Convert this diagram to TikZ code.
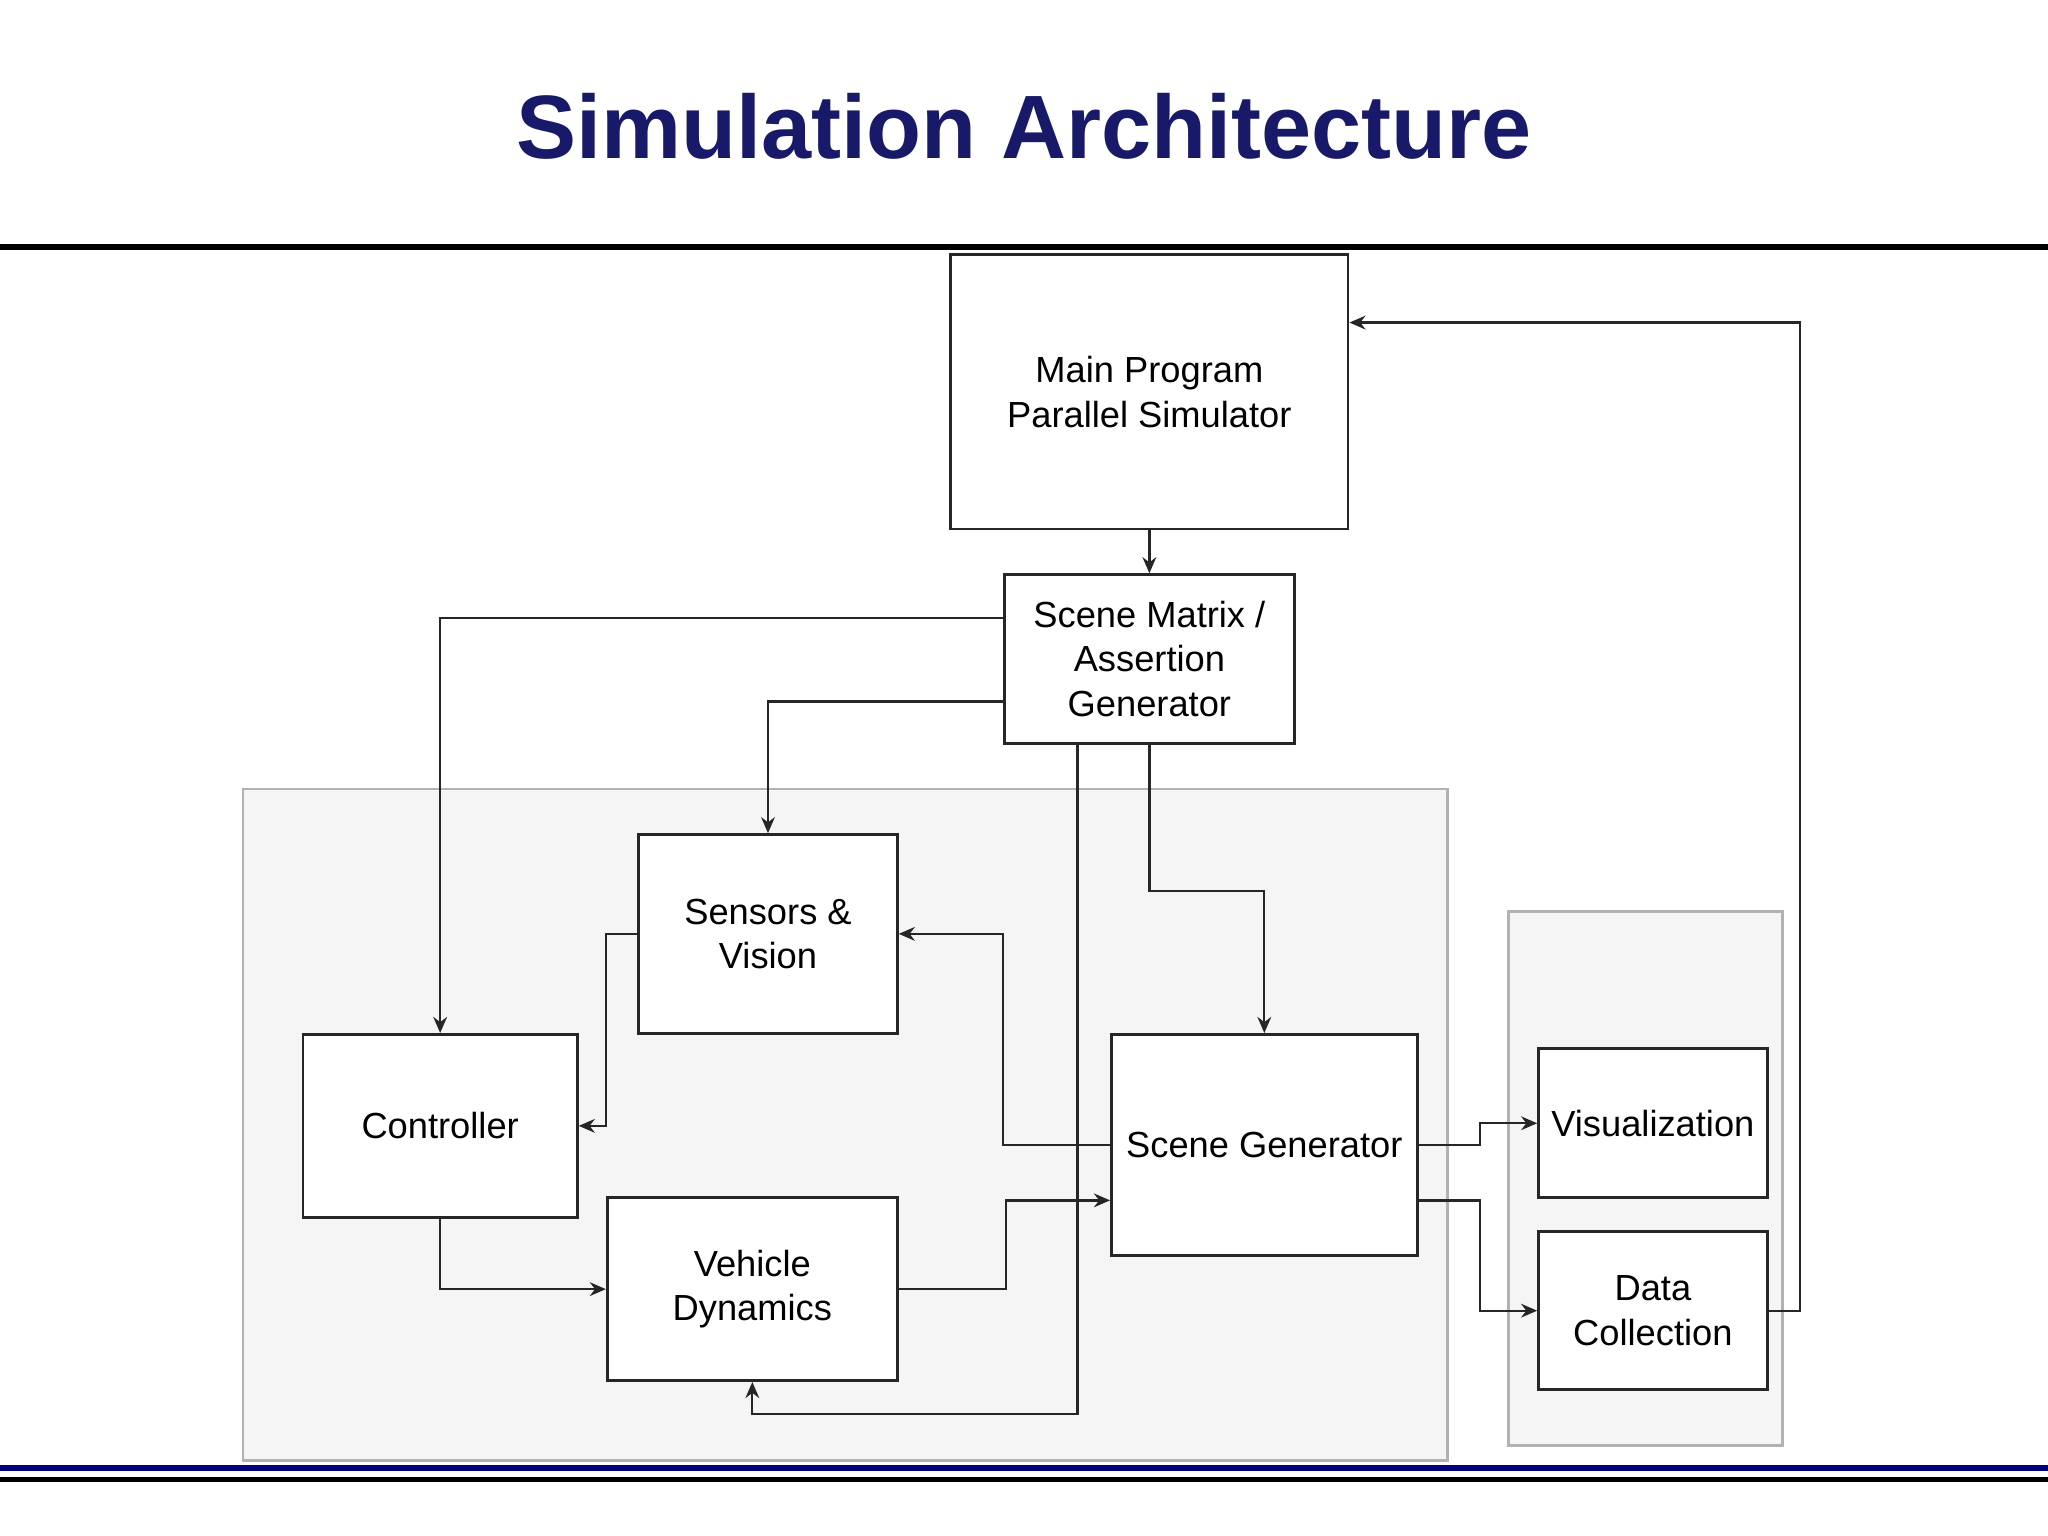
\documentclass[tikz,border=0pt]{standalone}
\usepackage{fontspec}
\setmainfont{Liberation Sans}
\usetikzlibrary{arrows.meta}
\tikzset{
  blk/.style={draw=black!85, line width=0.6pt, fill=white, align=center,
    inner sep=0pt, font=\fontsize{7.9}{9.7}\selectfont},
  grp/.style={draw=black!30, line width=0.6pt, fill=black!4},
  arr/.style={draw=black!85, line width=0.5pt, -{Stealth[length=3.5pt,width=3pt]}}
}
\begin{document}
\begin{tikzpicture}[x=0.01cm, y=-0.01cm]
  \useasboundingbox (0,0) rectangle (1568,1176);
  \node[font=\bfseries\fontsize{19.6}{22}\selectfont, text=blue!35!black!90] (title) at (784,97) {Simulation Architecture};
  \draw[line width=1.4pt] (0,189) -- (1568,189);
  \draw[line width=1.3pt, color=blue!50!black] (0,1124) -- (1568,1124);
  \draw[line width=1.1pt] (0,1133) -- (1568,1133);
  % groups
  \draw[grp] (186,604) rectangle (1108,1118);
  \draw[grp] (1155,698) rectangle (1365,1107);
  % blocks
  \node[blk, minimum width=3.04cm, minimum height=2.10cm] (mp) at (880,300) {Main Program\\Parallel Simulator};
  \node[blk, minimum width=2.22cm, minimum height=1.29cm] (sm) at (880,504.5) {Scene Matrix /\\Assertion\\Generator};
  \node[blk, minimum width=1.98cm, minimum height=1.52cm] (sens) at (588,715) {Sensors \&\\Vision};
  \node[blk, minimum width=2.10cm, minimum height=1.40cm] (ctrl) at (337,862) {Controller};
  \node[blk, minimum width=2.22cm, minimum height=1.40cm] (veh) at (576,987) {Vehicle\\Dynamics};
  \node[blk, minimum width=2.34cm, minimum height=1.69cm] (sg) at (968,876.5) {Scene Generator};
  \node[blk, minimum width=1.75cm, minimum height=1.14cm] (vis) at (1265.5,860) {Visualization};
  \node[blk, minimum width=1.75cm, minimum height=1.21cm] (dc) at (1265.5,1003.5) {Data\\Collection};
  % connectors
  \draw[arr] (mp.south) -- (sm.north);
  \draw[arr] ([yshift=0.315cm]sm.west) -| (ctrl.north);
  \draw[arr] ([yshift=-0.325cm]sm.west) -| (sens.north);
  \draw[arr] ([xshift=-0.55cm]sm.south) -- ++(0,-5.12cm) -| (veh.south);
  \draw[arr] (sm.south) -- ++(0,-1.12cm) -| (sg.north);
  \draw[arr] (sg.west) -- ++(-0.82cm,0) |- (sens.east);
  \draw[arr] (sens.west) -- ++(-0.24cm,0) |- (ctrl.east);
  \draw[arr] (ctrl.south) |- (veh.west);
  \draw[arr] (veh.east) -- ++(0.82cm,0) |- ([yshift=-0.425cm]sg.west);
  \draw[arr] (sg.east) -- ++(0.47cm,0) |- (vis.west);
  \draw[arr] ([yshift=-0.425cm]sg.east) -- ++(0.47cm,0) |- (dc.west);
  \draw[arr] (dc.east) -- ++(0.24cm,0) |- ([yshift=0.53cm]mp.east);
\end{tikzpicture}
\end{document}
